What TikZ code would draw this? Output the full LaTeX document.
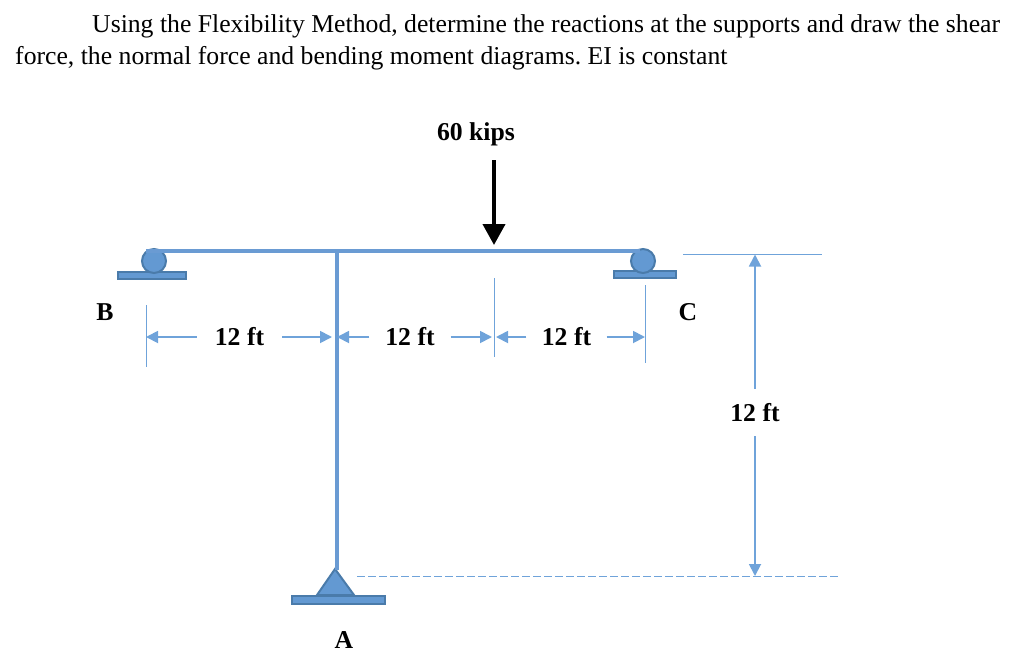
\documentclass[tikz,border=0pt]{standalone}
\usepackage{fontspec}
\setmainfont{Liberation Serif}
\usepackage{tikz}
\usetikzlibrary{arrows.meta}
\usetikzlibrary{positioning}
\definecolor{beamblue}{HTML}{6A9BD3}
\definecolor{supfill}{HTML}{6399D2}
\definecolor{supedge}{HTML}{4A7BAA}
\definecolor{dimblue}{HTML}{6FA3DA}

\begin{document}
\frenchspacing
\begin{tikzpicture}[x=1pt,y=-1pt,
	title/.style={anchor=west,inner sep=0pt,font=\fontsize{25.7}{28}\selectfont},
	label/.style={inner sep=0pt,font=\fontsize{25.7}{28}\selectfont\bfseries},
	dimlabel/.style={label,minimum height=22pt},
	beam/.style={draw=beamblue,line width=3.4pt},
	plate/.style={draw=supedge,fill=supfill,line width=2pt,minimum height=7pt,inner sep=0pt},
	pin/.style={draw=supedge,fill=supfill,line width=2pt,circle,inner sep=0pt,minimum size=24pt},
	thin/.style={draw=dimblue,line width=1pt},
	dim/.style={draw=dimblue,line width=1.8pt,-{Triangle[length=12pt,width=12pt]}}]
	
	\useasboundingbox (0,0) rectangle (1024,667);
	
	\node[title] (line1) at (92,26) {Using the Flexibility Method, determine the reactions at the supports and draw the shear};
	\node[title] (line2) at (15,58) {force, the normal force and bending moment diagrams. EI is constant};
	
	\node[label] (load) at (476,134) {60 kips};
	\coordinate (loadtop) at (494,160);
	\coordinate (loadtip) at (494,245);
	\draw[line width=4pt,-{Triangle[length=21pt,width=22pt]}] (loadtop) -- (loadtip);
	
	% supports
	\node[plate,minimum width=68pt] (plateb) at (151.5,275) {};
	\node[pin] (pinb) at (154,261) {};
	\node[plate,minimum width=62pt] (platec) at (644.5,274) {};
	\node[pin] (pinc) at (643,261) {};
	\coordinate (apex) at (335,569);
	\coordinate (basel) at (317,595);
	\coordinate (baser) at (354,595);
	\draw[supedge,fill=supfill,line width=2pt] (apex) -- (basel) -- (baser) -- cycle;
	\node[plate,minimum width=93pt,minimum height=8pt] (platea) at (338,599.5) {};
	
	% frame
	\coordinate (beamb) at (146,251);
	\coordinate (beamc) at (640,251);
	\coordinate (joint) at (337,251);
	\coordinate (foot) at (337,570);
	\draw[beam] (beamb) -- (beamc);
	\draw[beam] (joint) -- (foot);
	
	\node[label] (b) at (105,312) {B};
	\node[label] (c) at (688,312) {C};
	\node[label] (a) at (344,640) {A};
	
	% ticks
	\coordinate (tick1a) at (146,305);
	\coordinate (tick1b) at (146,367);
	\coordinate (tick2a) at (494,278);
	\coordinate (tick2b) at (494,357);
	\coordinate (tick3a) at (645,285);
	\coordinate (tick3b) at (645,363);
	\draw[thin] (tick1a) -- (tick1b);
	\draw[thin] (tick2a) -- (tick2b);
	\draw[thin] (tick3a) -- (tick3b);
	
	% horizontal dimensions
	\node[dimlabel,minimum width=85pt] (dim1) at (239.5,337) {12 ft};
	\node[dimlabel,minimum width=81pt] (dim2) at (410,337) {12 ft};
	\node[dimlabel,minimum width=80pt] (dim3) at (566.5,337) {12 ft};
	\coordinate (end1l) at (146,337);
	\coordinate (end1r) at (332,337);
	\coordinate (end2l) at (337,337);
	\coordinate (end2r) at (492,337);
	\coordinate (end3l) at (496,337);
	\coordinate (end3r) at (645,337);
	\draw[dim] (dim1.west) -- (end1l);
	\draw[dim] (dim1.east) -- (end1r);
	\draw[dim] (dim2.west) -- (end2l);
	\draw[dim] (dim2.east) -- (end2r);
	\draw[dim] (dim3.west) -- (end3l);
	\draw[dim] (dim3.east) -- (end3r);
	
	% vertical dimension
	\coordinate (topl) at (683,254);
	\coordinate (topr) at (822,254);
	\coordinate (botl) at (357,576);
	\coordinate (botr) at (838,576);
	\draw[thin] (topl) -- (topr);
	\draw[thin,dash pattern=on 8pt off 3pt] (botl) -- (botr);
	\node[dimlabel,minimum height=47pt] (dim4) at (755,412.5) {12 ft};
	\coordinate (endtop) at (755,254.5);
	\coordinate (endbot) at (755,576);
	\draw[dim] (dim4.north) -- (endtop);
	\draw[dim] (dim4.south) -- (endbot);
\end{tikzpicture}
\end{document}
